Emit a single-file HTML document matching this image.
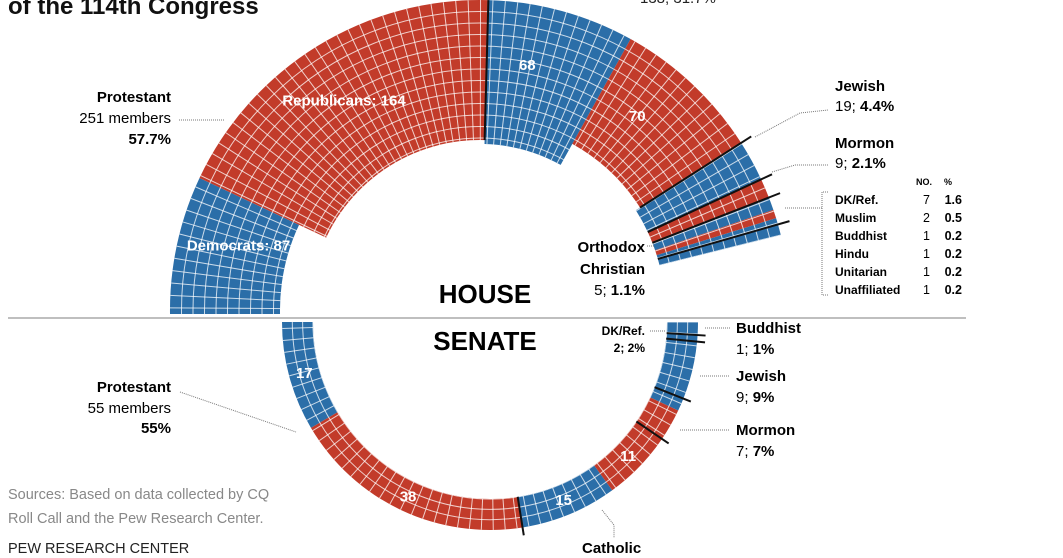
<!DOCTYPE html>
<html><head><meta charset="utf-8">
<style>
html,body{margin:0;padding:0;background:#fff;overflow:hidden;}
svg{display:block;}
text{font-family:"Liberation Sans",sans-serif;}
.b{font-weight:bold;}
</style></head>
<body>
<svg id="chart" width="1063" height="558" viewBox="0 0 1063 558" xmlns="http://www.w3.org/2000/svg">
  <defs><clipPath id="houseArea"><rect x="0" y="0" width="1063" height="314"/></clipPath></defs>
  <g id="house" clip-path="url(#houseArea)"></g>
  <g id="senate"></g>

  <rect x="0" y="0" width="290" height="20" fill="#fff"/>
  <text x="8" y="14" font-size="24" class="b" fill="#111">of the 114th Congress</text>
  <text x="640" y="3" font-size="15" fill="#222">138; 31.7%</text>

  <g>
    <text x="171" y="102" font-size="15" class="b" text-anchor="end">Protestant</text>
    <text x="171" y="123" font-size="15" text-anchor="end">251 members</text>
    <text x="171" y="144" font-size="15" class="b" text-anchor="end">57.7%</text>
    <line x1="179" y1="120" x2="224" y2="120" stroke="#777" stroke-width="1" stroke-dasharray="1,1"/>
  </g>
  <g>
    <text x="835" y="91" font-size="15" class="b">Jewish</text>
    <text x="835" y="111" font-size="15">19; <tspan class="b">4.4%</tspan></text>
    <polyline points="755,137 800,113 828,110" fill="none" stroke="#777" stroke-dasharray="1,1"/>
  </g>
  <g>
    <text x="835" y="148" font-size="15" class="b">Mormon</text>
    <text x="835" y="168" font-size="15">9; <tspan class="b">2.1%</tspan></text>
    <polyline points="772,172 795,165 828,165" fill="none" stroke="#777" stroke-dasharray="1,1"/>
  </g>
  <g id="otherTable">
    <text x="916" y="185" font-size="9" class="b">NO.</text>
    <text x="944" y="185" font-size="9" class="b">%</text>
    <polyline points="828,192 822,192 822,295 828,295" fill="none" stroke="#777" stroke-dasharray="1,1"/>
    <line x1="785" y1="208" x2="822" y2="208" stroke="#777" stroke-dasharray="1,1"/>
  </g>
  <g>
    <text x="645" y="252" font-size="15" class="b" text-anchor="end">Orthodox</text>
    <text x="645" y="274" font-size="15" class="b" text-anchor="end">Christian</text>
    <text x="645" y="295" font-size="15" text-anchor="end">5; <tspan class="b">1.1%</tspan></text>
    <line x1="647" y1="246" x2="655" y2="246" stroke="#777" stroke-dasharray="1,1"/>
  </g>
  <text x="485" y="303" font-size="26" class="b" text-anchor="middle">HOUSE</text>
  <line x1="8" y1="318" x2="966" y2="318" stroke="#aaa" stroke-width="1.5"/>
  <text x="485" y="350" font-size="26" class="b" text-anchor="middle">SENATE</text>

  <g>
    <text x="171" y="392" font-size="15" class="b" text-anchor="end">Protestant</text>
    <text x="171" y="413" font-size="15" text-anchor="end">55 members</text>
    <text x="171" y="433" font-size="15" class="b" text-anchor="end">55%</text>
    <line x1="180" y1="392" x2="296" y2="432" stroke="#777" stroke-dasharray="1,1"/>
  </g>
  <g>
    <text x="645" y="335" font-size="12" class="b" text-anchor="end">DK/Ref.</text>
    <text x="645" y="352" font-size="12" class="b" text-anchor="end">2; 2%</text>
    <line x1="650" y1="331" x2="665" y2="331" stroke="#777" stroke-dasharray="1,1"/>
  </g>
  <g>
    <text x="736" y="333" font-size="15" class="b">Buddhist</text>
    <text x="736" y="354" font-size="15">1; <tspan class="b">1%</tspan></text>
    <line x1="705" y1="328" x2="730" y2="328" stroke="#777" stroke-dasharray="1,1"/>
  </g>
  <g>
    <text x="736" y="381" font-size="15" class="b">Jewish</text>
    <text x="736" y="402" font-size="15">9; <tspan class="b">9%</tspan></text>
    <line x1="700" y1="376" x2="730" y2="376" stroke="#777" stroke-dasharray="1,1"/>
  </g>
  <g>
    <text x="736" y="435" font-size="15" class="b">Mormon</text>
    <text x="736" y="456" font-size="15">7; <tspan class="b">7%</tspan></text>
    <line x1="680" y1="430" x2="730" y2="430" stroke="#777" stroke-dasharray="1,1"/>
  </g>
  <g>
    <text x="582" y="553" font-size="15" class="b">Catholic</text>
    <polyline points="602,510 614,525 614,538" fill="none" stroke="#777" stroke-dasharray="1,1"/>
  </g>
  <text x="8" y="499" font-size="14.5" fill="#888">Sources: Based on data collected by CQ</text>
  <text x="8" y="523" font-size="14.5" fill="#888">Roll Call and the Pew Research Center.</text>
  <text x="8" y="553" font-size="14.5" fill="#222">PEW RESEARCH CENTER</text>
</svg>
<script>
const houseReligion = ['Protestant','Protestant','Catholic','Catholic','Jewish','Mormon','Other','Other','Other','Orthodox'];
const houseParty = ['D','R','D','R','D','R','D','R','D','D'];
const houseSeats = [87,164,68,70,19,9,6,4,3,5];
const houseSegLabels = ['Democrats: 87','Republicans: 164','68','70','','','','','',''];
const senateReligion = ['Protestant','Protestant','Catholic','Catholic','Mormon','Mormon','Jewish','Buddhist','DK'];
const senateParty = ['D','R','D','R','R','D','D','D','D'];
const senateSeats = [17,38,15,11,5,2,9,1,2];
const senateSegLabels = ['17','38','15','11','','','','',''];
const otherNames = ['DK/Ref.','Muslim','Buddhist','Hindu','Unitarian','Unaffiliated'];
const otherCounts = [7,2,1,1,1,1];
const otherPct = ['1.6','0.5','0.2','0.2','0.2','0.2'];

/* layout (not data): inner radius per house block, label placement along block */
const houseInnerR = [200,170,166,190,185,185,185,185,185,185];
const houseLabelFrac = [0.71,0.48,0.34,0.35,0.5,0.5,0.5,0.5,0.5,0.5];

const NS='http://www.w3.org/2000/svg';
const COL={D:'#2b6ea8',R:'#c23b2a'};
function mk(tag,attrs,parent){const e=document.createElementNS(NS,tag);for(const k in attrs)e.setAttribute(k,attrs[k]);parent.appendChild(e);return e;}
function pt(cx,cy,r,a,down){const t=a*Math.PI/180;return [cx+r*Math.cos(t), down?cy+r*Math.sin(t):cy-r*Math.sin(t)];}
function arcPath(cx,cy,r0,r1,a0,a1,down){
  const A=pt(cx,cy,r1,a0,down),B=pt(cx,cy,r1,a1,down),C=pt(cx,cy,r0,a1,down),D=pt(cx,cy,r0,a0,down);
  const large=Math.abs(a0-a1)>180?1:0;
  const sw1=down?0:1, sw0=down?1:0;
  return `M${A[0]},${A[1]} A${r1},${r1} 0 ${large} ${sw1} ${B[0]},${B[1]} L${C[0]},${C[1]} A${r0},${r0} 0 ${large} ${sw0} ${D[0]},${D[1]} Z`;
}
function drawChamber(g,id,cx,cy,innerR,r1,startA,endA,seats,party,religion,labels,labelFrac,labelR,down,rowH,colStep,fontSize,tick){
  const total=seats.reduce((a,b)=>a+b,0);
  const scale=n=>startA-(startA-endA)*n/total;
  const clip=mk('clipPath',{id:id+'clip'},g);
  let cum=0;
  const segG=mk('g',{},g);
  
  
  const bounds=[];
  const minR=Math.min.apply(null,innerR);
  const labelG=[];
  for(let i=0;i<seats.length;i++){
    const r0=innerR[i];
    const a0=scale(cum),a1=scale(cum+seats[i]);
    const d=arcPath(cx,cy,r0,r1,a0,a1,down);
    const p=mk('path',{d:d,fill:COL[party[i]]},segG);
    
    
    mk('path',{d:d},clip);
    if(i>0 && religion[i]!==religion[i-1]) bounds.push([a0,Math.max(r0,innerR[i-1])]);
    if(labels[i]){
      const f=labelFrac?labelFrac[i]:0.5;
      const lr=labelR||(r0+r1)/2;
      labelG.push([labels[i],pt(cx,cy,lr,a0+(a1-a0)*f,down)]);
    }
    cum+=seats[i];
  }
  const grid=mk('g',{'clip-path':'url(#'+id+'clip)',stroke:'#fff','stroke-opacity':'0.75','stroke-width':'1',fill:'none'},g);
  
  
  for(let r=r1-rowH;r>minR;r-=rowH) mk('circle',{cx:cx,cy:cy,r:r},grid);
  const lo=Math.min(startA,endA),hi=Math.max(startA,endA);
  for(let a=lo;a<=hi;a+=colStep){const A=pt(cx,cy,minR,a,down),B=pt(cx,cy,r1,a,down);mk('line',{x1:A[0],y1:A[1],x2:B[0],y2:B[1]},grid);}
  labelG.forEach(L=>{
    const t=mk('text',{x:L[1][0],y:L[1][1]+fontSize*0.35,'font-size':fontSize,'text-anchor':'middle',fill:'#fff','font-weight':'bold'},g);
    t.textContent=L[0];
    
    
  });
  const bl=mk('g',{stroke:'#111','stroke-width':'2'},g);
  
  
  bounds.forEach((b,k)=>{const ext=(k===0&&!down)?0:tick;const A=pt(cx,cy,b[1],b[0],down),B=pt(cx,cy,r1+ext,b[0],down);mk('line',{x1:A[0],y1:A[1],x2:B[0],y2:B[1]},bl);});
}
drawChamber(document.getElementById('house'),'house',480,310,houseInnerR,310,190,14,houseSeats,houseParty,houseReligion,houseSegLabels,houseLabelFrac,250,false,11.5,2.3,15,12);
drawChamber(document.getElementById('senate'),'senate',490,322,senateSeats.map(()=>177),208,180,0,senateSeats,senateParty,senateReligion,senateSegLabels,null,0,true,10.3,3.3,15,8);

const tbl=document.getElementById('otherTable');
for(let i=0;i<otherNames.length;i++){
  const y=204+i*18;
  const n=mk('text',{x:835,y:y,'font-size':12,'font-weight':'bold'},tbl);
  n.textContent=otherNames[i];
  
  
  const c=mk('text',{x:930,y:y,'font-size':12.5,'text-anchor':'end'},tbl);
  c.textContent=otherCounts[i];
  
  
  const p=mk('text',{x:962,y:y,'font-size':12.5,'text-anchor':'end','font-weight':'bold'},tbl);
  p.textContent=otherPct[i];
  
  
}
</script>
</body></html>
